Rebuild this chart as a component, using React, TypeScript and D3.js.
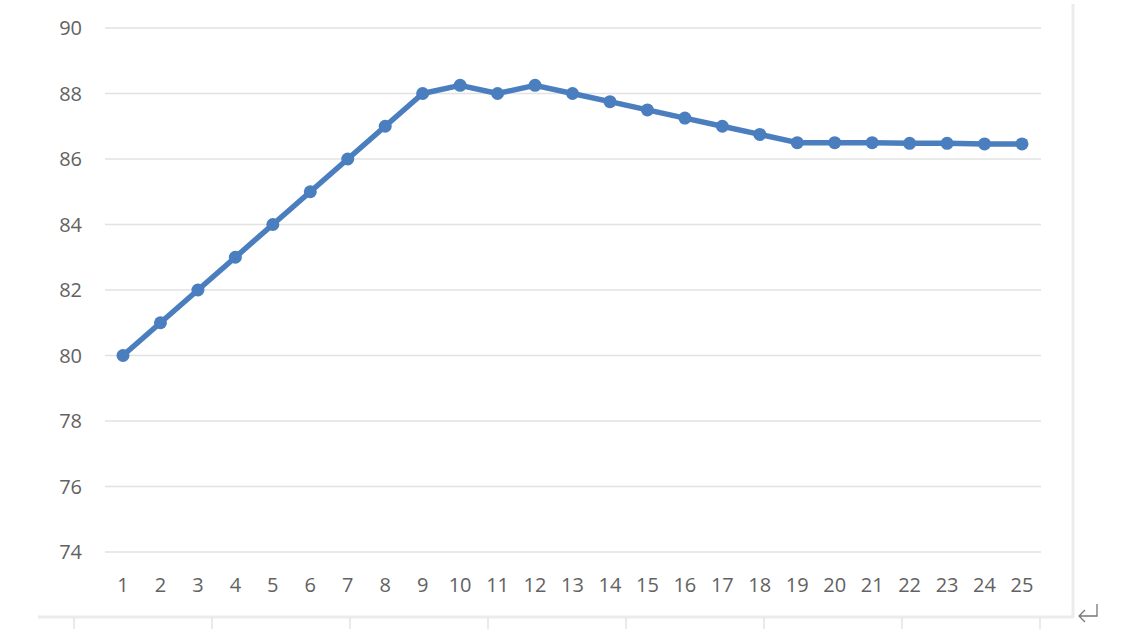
import React from "react";
import * as d3 from "d3";

const categories = ["1","2","3","4","5","6","7","8","9","10","11","12","13","14","15","16","17","18","19","20","21","22","23","24","25"];
const values = [80, 81, 82, 83, 84, 85, 86, 87, 88, 88.25, 88, 88.25, 88, 87.75, 87.5, 87.25, 87, 86.75, 86.5, 86.5, 86.5, 86.48, 86.48, 86.46, 86.46];
const yTicks = [74, 76, 78, 80, 82, 84, 86, 88, 90];
const frameTicks = [0, 1, 2, 3, 4, 5, 6, 7];

export default function App() {
  const W = 1126, H = 629;
  const x = d3.scalePoint<string>().domain(categories).range([123, 1022]);
  const y = d3.scaleLinear().domain([74, 90]).range([552, 28]);
  const fx = d3.scaleLinear().domain([0, 7]).range([74, 1040]);
  const line = d3.line<number>().x((_, i) => x(categories[i])!).y(d => y(d));
  const font = "'Open Sans', 'Noto Sans', sans-serif";
  return (
    <svg width={W} height={H} style={{ position: "absolute", left: 0, top: 0, background: "#fff" }}>
      {/* frame */}
      <line x1={1073} x2={1073} y1={4} y2={618} stroke="#ececec" strokeWidth={3} />
      <line x1={38} x2={1073} y1={617} y2={617} stroke="#ececec" strokeWidth={3} />
      {frameTicks.map(t => (
        <line key={t} x1={fx(t)} x2={fx(t)} y1={617} y2={629} stroke="#e3e3e3" strokeWidth={1.5} />
      ))}
      <path d="M1097,604 V616 H1079 M1085,610 L1079,616 L1085,622" fill="none" stroke="#777" strokeWidth={1.3} />
      {/* gridlines */}
      {yTicks.map(t => (
        <g key={t}>
          <line x1={105} x2={1041} y1={y(t)} y2={y(t)} stroke="#e2e2e2" strokeWidth={1.5} />
          <text x={82} y={y(t)} dy="0.35em" textAnchor="end" fontSize={20} fill="#626262" fontFamily={font}>{t}</text>
        </g>
      ))}
      {categories.map(c => (
        <text key={c} x={x(c)!} y={585} dy="0.35em" textAnchor="middle" fontSize={20} fill="#626262" fontFamily={font}>{c}</text>
      ))}
      <path d={line(values)!} fill="none" stroke="#4a7ebf" strokeWidth={5.5} strokeLinejoin="round" />
      {values.map((v, i) => (
        <circle key={i} cx={x(categories[i])!} cy={y(v)} r={6.5} fill="#4a7ebf" />
      ))}
    </svg>
  );
}
